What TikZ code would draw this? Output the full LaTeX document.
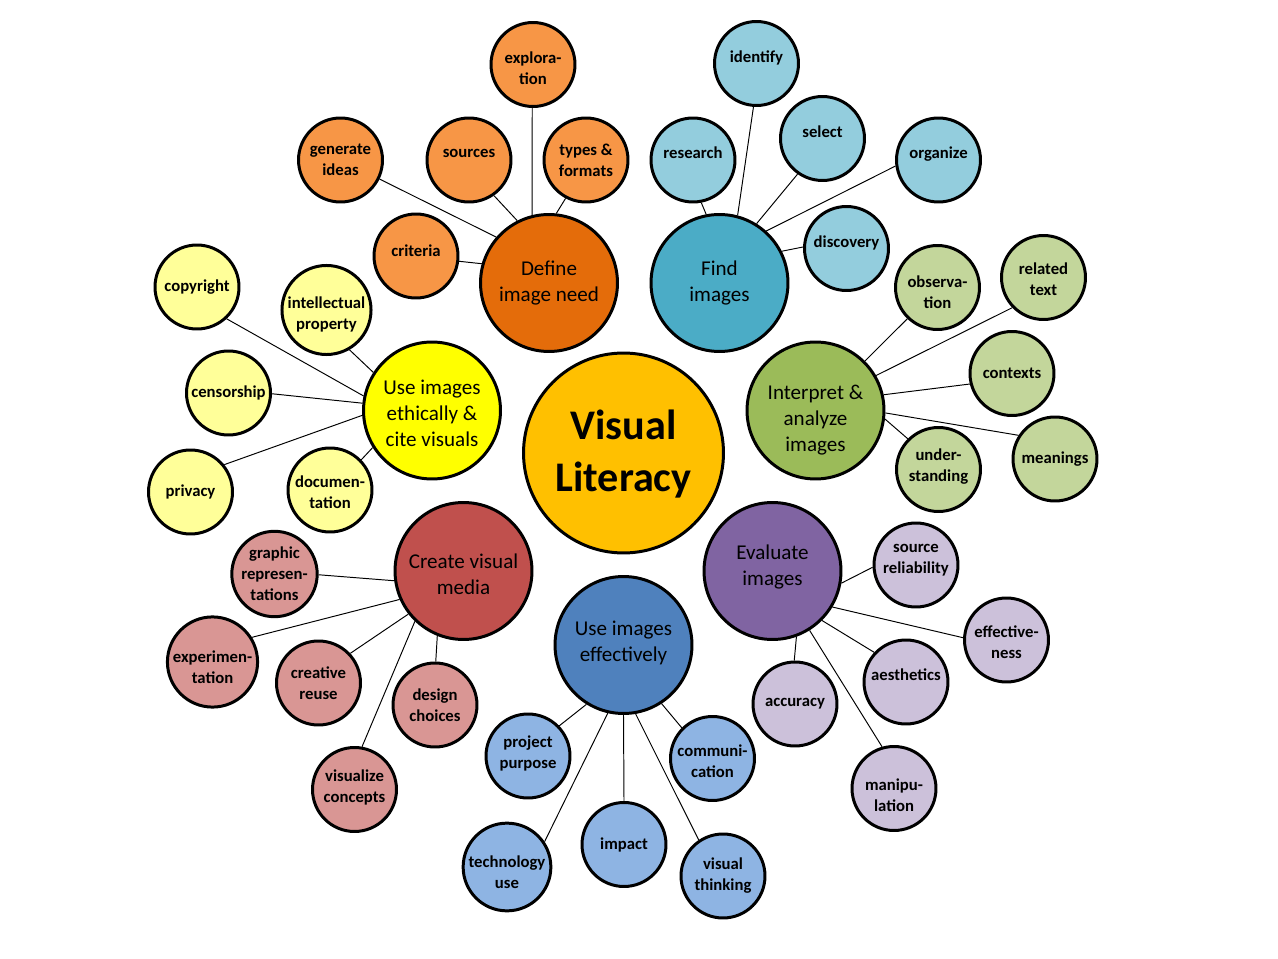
\documentclass[tikz,border=0pt]{standalone}
\usepackage{fontspec}
\setmainfont{Carlito}
\definecolor{litgold}{RGB}{255, 192, 0}
\definecolor{needorange}{RGB}{228, 108, 10}
\definecolor{needlight}{RGB}{247, 150, 70}
\definecolor{findteal}{RGB}{75, 172, 198}
\definecolor{findlight}{RGB}{147, 205, 221}
\definecolor{ethicyellow}{RGB}{255, 255, 0}
\definecolor{ethiclight}{RGB}{255, 255, 153}
\definecolor{interpgreen}{RGB}{155, 187, 89}
\definecolor{interplight}{RGB}{195, 214, 155}
\definecolor{createred}{RGB}{192, 80, 77}
\definecolor{createlight}{RGB}{217, 150, 148}
\definecolor{evalpurple}{RGB}{128, 100, 162}
\definecolor{evallight}{RGB}{204, 193, 218}
\definecolor{effblue}{RGB}{79, 129, 189}
\definecolor{efflight}{RGB}{142, 180, 227}
\tikzset{
  topic/.style={draw, circle, line width=1.7pt, minimum size=2.74cm, inner sep=0pt, align=center, font=\fontsize{12}{14.8}\selectfont},
  leaf/.style={draw, circle, line width=1.7pt, minimum size=1.68cm, inner sep=0pt, align=center, font=\fontsize{9.5}{12}\selectfont\bfseries},
  textup/.style={text depth=#1},
  textdown/.style={text height=#1},
  raised/.style={textup=8pt},
  link/.style={line width=0.55pt}
}

\begin{document}
\begin{tikzpicture}[x=0.02cm, y=-0.02cm]
  \useasboundingbox (0, 0) rectangle (1278, 959);

  % Centre
  \node[draw, circle, line width=1.7pt, minimum size=4cm, inner sep=0pt, align=center, fill=litgold, font=\fontsize{24}{29.5}\selectfont\bfseries, textdown=47.8pt] (vl) at (623.5, 453) {Visual\\Literacy};

  % Define image need
  \node[topic, fill=needorange] (def) at (549, 283) {Define\\image need};
  \node[leaf, fill=needlight, textdown=22.6pt] (d1) at (533, 64.5) {explora-\\tion};
  \node[leaf, fill=needlight] (d2) at (340.5, 160) {generate\\ideas};
  \node[leaf, fill=needlight, raised] (d3) at (469, 160) {sources};
  \node[leaf, fill=needlight] (d4) at (586, 160) {types \&\\formats};
  \node[leaf, fill=needlight, textup=6pt] (d5) at (416, 256) {criteria};
  \draw[link] (d1.-91) -- (def.104);
  \draw[link] (d2.-26) -- (def.139);
  \draw[link] (d3.-55) -- (def.117);
  \draw[link] (d4.-118) -- (def.84);
  \draw[link] (d5.-7) -- (def.164);

  % Find images
  \node[topic, fill=findteal] (find) at (719.5, 283) {Find\\images};
  \node[leaf, fill=findlight, raised] (f1) at (756.5, 63.5) {identify};
  \node[leaf, fill=findlight, raised] (f2) at (693, 160) {research};
  \node[leaf, fill=findlight, raised] (f3) at (822.5, 138.5) {select};
  \node[leaf, fill=findlight, raised] (f4) at (938.5, 160) {organize};
  \node[leaf, fill=findlight, raised] (f5) at (846.5, 248.5) {discovery};
  \draw[link] (f1.-94) -- (find.75);
  \draw[link] (f2.-79) -- (find.101);
  \draw[link] (f3.-125) -- (find.58);
  \draw[link] (f4.-172) -- (find.48);
  \draw[link] (f5.178) -- (find.27);

  % Use images ethically
  \node[topic, fill=ethicyellow, textdown=41.3pt] (eth) at (432, 410.5) {Use images\\ethically \&\\cite visuals};
  \node[leaf, fill=ethiclight] (e1) at (197, 287) {copyright};
  \node[leaf, fill=ethiclight, textdown=23.7pt] (e2) at (326.5, 310) {intellectual\\property};
  \node[leaf, fill=ethiclight] (e3) at (228.5, 393) {censorship};
  \node[leaf, fill=ethiclight] (e4) at (190.5, 492) {privacy};
  \node[leaf, fill=ethiclight, textdown=20.9pt] (e5) at (330, 490) {documen-\\tation};
  \draw[link] (e1.-47) -- (eth.168);
  \draw[link] (e2.-60) -- (eth.147);
  \draw[link] (e3.-1) -- (eth.174);
  \draw[link] (e4.39) -- (eth.184);
  \draw[link] (e5.44) -- (eth.212);

  % Interpret & analyze images
  \node[topic, fill=interpgreen, textdown=48.8pt] (int) at (815.5, 410.5) {Interpret \&\\analyze\\images};
  \node[leaf, fill=interplight, textdown=24.3pt] (i1) at (937.5, 287.5) {observa-\\tion};
  \node[leaf, fill=interplight, textdown=20.9pt] (i2) at (1043.5, 277.5) {related\\text};
  \node[leaf, fill=interplight] (i3) at (1012, 373.5) {contexts};
  \node[leaf, fill=interplight] (i4) at (1055, 459) {meanings};
  \node[leaf, fill=interplight, textup=5.3pt] (i5) at (938.5, 469.5) {under-\\standing};
  \draw[link] (i1.-134) -- (int.45);
  \draw[link] (i2.-136) -- (int.30);
  \draw[link] (i3.-166) -- (int.13);
  \draw[link] (i4.147) -- (int.-2);
  \draw[link] (i5.135) -- (int.-7);

  % Create visual media
  \node[topic, fill=createred, textdown=26.6pt] (cre) at (463.5, 571) {Create visual\\media};
  \node[leaf, fill=createlight] (c1) at (274.5, 574) {graphic\\represen-\\tations};
  \node[leaf, fill=createlight, textdown=24.7pt] (c2) at (212.5, 662) {experimen-\\tation};
  \node[leaf, fill=createlight] (c3) at (318.5, 683) {creative\\reuse};
  \node[leaf, fill=createlight] (c4) at (435, 705) {design\\choices};
  \node[leaf, fill=createlight, textup=4.2pt] (c5) at (354.5, 789.5) {visualize\\concepts};
  \draw[link] (c1.-1) -- (cre.188);
  \draw[link] (c2.32) -- (cre.204);
  \draw[link] (c3.43) -- (cre.218);
  \draw[link] (c4.89) -- (cre.248);
  \draw[link] (c5.80) -- (cre.226);

  % Evaluate images
  \node[topic, fill=evalpurple, textup=7pt] (eva) at (772.5, 571) {Evaluate\\images};
  \node[leaf, fill=evallight, textup=6.5pt] (v1) at (916, 565) {source\\reliability};
  \node[leaf, fill=evallight, textdown=20.9pt] (v2) at (1006.5, 640) {effective-\\ness};
  \node[leaf, fill=evallight, raised] (v3) at (906, 682) {aesthetics};
  \node[leaf, fill=evallight] (v4) at (795, 704) {accuracy};
  \node[leaf, fill=evallight, textdown=25.9pt] (v5) at (894, 788.5) {manipu-\\lation};
  \draw[link] (v1.-177) -- (eva.-10);
  \draw[link] (v2.177) -- (eva.-31);
  \draw[link] (v3.137) -- (eva.-45);
  \draw[link] (v4.91) -- (eva.-70);
  \draw[link] (v5.106) -- (eva.-58);

  % Use images effectively
  \node[topic, fill=effblue, textup=4.7pt] (eff) at (623.5, 645) {Use images\\effectively};
  \node[leaf, fill=efflight, textup=4.7pt] (u1) at (528, 756) {project\\purpose};
  \node[leaf, fill=efflight, textdown=24.3pt] (u2) at (507, 867) {technology\\use};
  \node[leaf, fill=efflight] (u3) at (624, 844.5) {impact};
  \node[leaf, fill=efflight] (u4) at (723, 876) {visual\\thinking};
  \node[leaf, fill=efflight, textdown=21.9pt] (u5) at (712.5, 758.5) {communi-\\cation};
  \draw[link] (u1.44) -- (eff.238);
  \draw[link] (u2.34) -- (eff.257);
  \draw[link] (u3.90) -- (eff.-90);
  \draw[link] (u4.124) -- (eff.-80);
  \draw[link] (u5.135) -- (eff.-57);
\end{tikzpicture}
\end{document}
